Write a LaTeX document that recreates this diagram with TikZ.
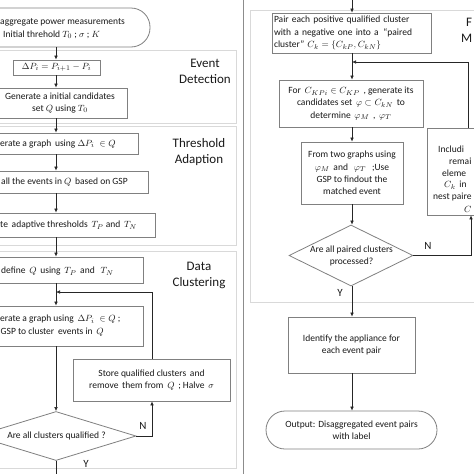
\documentclass[tikz,border=0pt]{standalone}
\usepackage{fontspec}
\setmainfont{Carlito}
\usetikzlibrary{shapes.geometric,arrows.meta}
\begin{document}
\begin{tikzpicture}[x=1pt,y=-1pt,
  box/.style={draw=black!50,line width=0.8pt,fill=white,inner sep=1pt,align=center,font=\fontsize{9.5}{12.2}\selectfont,text=black!90},
  term/.style={box,rounded corners=19pt},
  txt/.style={inner sep=0pt,font=\fontsize{9.5}{12.2}\selectfont,text=black!90},
  lbl/.style={inner sep=0pt,align=center,font=\fontsize{13}{16}\selectfont,text=black!90},
  yn/.style={inner sep=0pt,font=\fontsize{11}{13}\selectfont,text=black!90},
  dia/.style={diamond,draw=black!50,line width=0.8pt,fill=white,inner sep=0pt,aspect=2.5},
  panel/.style={draw=black!15,line width=0.8pt},
  arr/.style={draw=black!85,line width=0.6pt,-{Latex[length=4pt,width=3.6pt]}},
  line/.style={draw=black!85,line width=0.6pt}]
\useasboundingbox (0,0) rectangle (474,474);
\clip (0,0) rectangle (474,474);
\fill[white] (0,0) rectangle (474,474);
% panels
\draw[panel] (-10,50) rectangle (236,123);
\draw[panel] (-10,126) rectangle (236,245);
\draw[panel] (-10,251) rectangle (236,468);
\draw[panel] (250,10) rectangle (490,302);
\draw[draw=black!45,line width=0.8pt] (243,-5) -- (243,480);
% helper coordinates
\coordinate (lx) at (56,0);
\coordinate (lp) at (152,0);
\coordinate (j1) at (56,292);
\coordinate (yend) at (56,480);
\coordinate (rx) at (352,0);
\coordinate (lq) at (468,0);
\coordinate (lr) at (471,0);
\coordinate (j2) at (352,62);
\coordinate (topin) at (352,-3);
% panel labels
\node[lbl] (ed) at (205,71) {Event\\Detection};
\node[lbl] (ta) at (199,152) {Threshold\\Adaption};
\node[lbl] (dc) at (199,275) {Data\\Clustering};
\node[lbl,anchor=west] (fm1) at (466,22) {F};
\node[lbl,anchor=west] (fm2) at (461,38) {M};
% left column
\node[term,minimum width=210pt,minimum height=39pt] (start) at (45,27.5) {};
\node[txt,anchor=west] (st1) at (0,22.5) {aggregate power measurements};
\node[txt,anchor=west] (st2) at (3,34.5) {Initial threhold $T_0$ ; $\sigma$ ; $K$};
\node[box,minimum width=87pt,minimum height=15pt] (dp) at (56.5,67.5) {$\Delta P_i = P_{i+1}-P_i$};
\node[box,minimum width=134pt,minimum height=30pt] (gen) at (60,103) {Generate a initial candidates\\set $Q$ using $T_0$};
\node[box,minimum width=188pt,minimum height=21pt] (g1) at (44,143.5) {};
\node[txt,anchor=west] (g1t) at (0,144) {erate a graph\, using $\Delta P_i\;\in Q$};
\node[box,minimum width=198pt,minimum height=22pt] (ev) at (49,182) {};
\node[txt,anchor=west] (evt) at (1,182) {all the events in $Q$\, based on GSP};
\node[box,minimum width=205pt,minimum height=24pt] (thr) at (52.5,225) {};
\node[txt,anchor=west] (thrt) at (0,225) {te\, adaptive thresholds\, $T_P$ and\, $T_N$};
\node[box,minimum width=193pt,minimum height=26pt] (redef) at (46.5,270) {};
\node[txt,anchor=west] (redeft) at (1,271) {define\, $Q$\, using\, $T_P$\, and\, \ $T_N$};
\node[box,minimum width=193pt,minimum height=40pt] (clus) at (46.5,326) {};
\node[txt,anchor=west] (clust1) at (0,319.5) {erate a graph using\, $\Delta P_i\;\in Q$ ;};
\node[txt,anchor=west] (clust2) at (0.5,332) {GSP to cluster\, events in\, $Q$};
\node[box,minimum width=157pt,minimum height=42pt] (store) at (151.5,380) {Store qualified clusters\, and\\remove\, them from\, $Q$\, ; Halve\, $\sigma$};
\node[dia,minimum width=160pt,minimum height=49pt] (d1) at (56,436) {};
\node[txt] (d1t) at (56.5,436) {Are all clusters qualified ?};
\node[yn] (n1) at (143,426) {N};
\node[yn] (y1) at (86,464) {Y};
% left connectors
\draw[arr] (start.south -| lx) -- (dp.north -| lx);
\draw[arr] (dp.south -| lx) -- (gen.north -| lx);
\draw[arr] (gen.south -| lx) -- (g1.north -| lx);
\draw[arr] (g1.south -| lx) -- (ev.north -| lx);
\draw[arr] (ev.south -| lx) -- (thr.north -| lx);
\draw[arr] (thr.south -| lx) -- (redef.north -| lx);
\draw[arr] (redef.south -| lx) -- (clus.north -| lx);
\draw[arr] (store.north -| lp) -- (lp |- j1) -- (j1);
\draw[arr] (clus.south -| lx) -- (d1.north);
\draw[arr] (d1.east) -- (d1.east -| lp) -- (store.south -| lp);
\draw[line] (d1.south) -- (yend);
% right column
\node[box,minimum width=159pt,minimum height=40pt,align=left,text width=155pt] (pair) at (351.5,33) {Pair each positive qualified cluster\\with a negative one into a\, “paired\\cluster” $C_k=\{C_{kP},C_{kN}\}$};
\node[box,minimum width=144pt,minimum height=47pt] (forb) at (351,103.5) {For\, $C_{KPi}\in C_{KP}$\, , generate its\\candidates set\, $\varphi\subset C_{kN}$\, to\\determine\, $\varphi_M$\, ,\, $\varphi_T$};
\node[box,minimum width=102pt,minimum height=62pt] (from) at (352,173) {From two graphs using\\$\varphi_M$\, and\, \ $\varphi_T$\, \ ;Use\\GSP to findout the\\matched event};
\node[dia,minimum width=124pt,minimum height=61pt] (d2) at (351,255.5) {};
\node[txt,align=center] (d2t) at (351.5,256) {Are all paired clusters\\processed?};
\node[box,minimum width=83pt,minimum height=87pt] (inc) at (468.5,171.5) {};
\node[txt,anchor=west] (inc1) at (438,149) {Includi};
\node[txt,anchor=west] (inc2) at (449,161) {remai};
\node[txt,anchor=west] (inc3) at (442,173) {eleme};
\node[txt,anchor=west] (inc4) at (444,185) {$C_k$\, in};
\node[txt,anchor=west] (inc5) at (433,197) {nest paire};
\node[txt,anchor=west] (inc6) at (464,209) {$C$};
\node[yn] (n2) at (428,246) {N};
\node[yn] (y2) at (340,293) {Y};
\node[box,minimum width=127pt,minimum height=56pt] (ident) at (351.5,345) {Identify the appliance for\\each event pair};
\node[term,minimum width=171pt,minimum height=38pt] (out) at (351.5,430) {Output: Disaggregated event pairs\\with label};
% right connectors
\draw[arr] (topin) -- (pair.north -| rx);
\draw[arr] (pair.south -| rx) -- (forb.north -| rx);
\draw[arr] (inc.north -| lq) -- (lq |- j2) -- (j2);
\draw[arr] (forb.south -| rx) -- (from.north -| rx);
\draw[arr] (from.south -| rx) -- (d2.north -| rx);
\draw[arr] (d2.east) -- (d2.east -| lr) -- (inc.south -| lr);
\draw[arr] (d2.south -| rx) -- (ident.north -| rx);
\draw[arr] (ident.south -| rx) -- (out.north -| rx);
\end{tikzpicture}
\end{document}
